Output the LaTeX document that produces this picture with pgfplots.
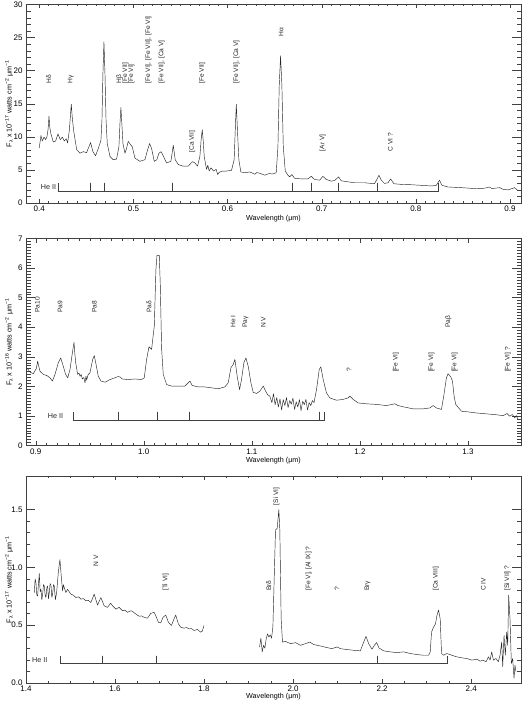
\documentclass[border=0pt]{standalone}
\usepackage{fontspec}
\setmainfont{Liberation Sans}
\usepackage{pgfplots}
\pgfplotsset{compat=1.18}

\newcommand{\tk}{\fontsize{8}{9}\selectfont}
\newcommand{\lb}{\fontsize{7.2}{8}\selectfont}
\newcommand{\an}{\fontsize{6.6}{7}\selectfont}

\pgfplotsset{
  spec/.style={
    scale only axis, width=495pt, anchor=south west,
    axis line style={black!75, line width=0.5pt},
    tick style={black!75, line width=0.4pt},
    tick align=inside, tick pos=both,
    major tick length=4pt, minor tick length=2pt,
    every y tick/.append style={/pgfplots/major tick length=9pt, /pgfplots/minor tick length=4.5pt},
    ticklabel style={font=\tk},
    xticklabel style={inner sep=1pt, yshift=-2pt},
    /pgf/number format/assume math mode=true,
    label style={font=\lb, inner sep=0.5pt},
    xlabel={Wavelength (μm)},
    xlabel style={at={(rel axis cs:0.5,0)}, anchor=center, yshift=-15.5pt},
    ylabel style={at={(rel axis cs:0,0.5)}, anchor=center, yshift=17pt},
  },
  sp/.style={black!85, line width=0.45pt, mark=none, line join=round},
  heii/.style={black!75, line width=0.4pt, mark=none},
}
\tikzset{
  ann/.style={font=\an, rotate=90, anchor=west, inner sep=0pt, black!85},
  hel/.style={font=\lb, anchor=east, inner sep=0pt, black!85},
}

\begin{document}
\begin{tikzpicture}
\path[use as bounding box] (0,0) rectangle (525pt,702pt);

% ---------------- panel 1: optical
\begin{axis}[spec, at={(26pt,499pt)}, height=198.5pt,
  xmin=0.3859, xmax=0.9117, ymin=0, ymax=30,
  xtick={0.4,0.5,0.6,0.7,0.8,0.9}, minor x tick num=9,
  ytick={0,5,10,15,20,25,30}, minor y tick num=4,
  xticklabel style={/pgf/number format/.cd, fixed, precision=1},
  ylabel={F\textsubscript{λ} x 10\textsuperscript{−17} watts cm\textsuperscript{−2} μm\textsuperscript{−1}}]
\addplot[sp] coordinates {
(0.4000,8.35)(0.4018,10.20)(0.4032,9.37)(0.4050,9.96)(0.4068,9.57)(0.4082,10.05)
(0.4094,11.2)(0.4103,13.13)(0.4112,11.4)(0.4124,10.44)(0.4149,9.22)(0.4174,9.37)
(0.4199,10.44)(0.4223,9.57)(0.4244,9.96)(0.4266,9.37)(0.4287,9.71)(0.4301,9.08)
(0.4319,10.93)(0.4331,13.2)(0.4340,14.93)(0.4350,13.0)(0.4365,10.93)(0.4397,8.10)
(0.4432,7.52)(0.4467,7.76)(0.4503,7.61)(0.4520,8.25)(0.4545,9.13)(0.4570,7.76)
(0.4598,7.13)(0.4627,8.25)(0.4655,9.47)(0.4666,12.6)(0.4676,19.5)(0.4687,24.35)
(0.4698,19.5)(0.4709,12.6)(0.4722,9.00)(0.4751,7.03)(0.4786,6.54)(0.4821,6.64)
(0.4846,8.49)(0.4857,12.0)(0.4867,14.45)(0.4878,11.8)(0.4889,8.98)(0.4910,7.52)
(0.4927,8.25)(0.4945,9.32)(0.4966,8.88)(0.4988,8.49)(0.5016,6.78)(0.5069,6.30)
(0.5122,6.54)(0.5150,8.00)(0.5172,8.98)(0.5193,8.25)(0.5221,6.30)(0.5249,6.54)
(0.5271,7.52)(0.5295,7.76)(0.5320,7.03)(0.5352,6.05)(0.5398,6.30)(0.5412,7.6)
(0.5423,8.74)(0.5434,7.6)(0.5444,6.54)(0.5476,5.81)(0.5529,5.56)(0.5582,5.56)
(0.5610,6.00)(0.5628,6.25)(0.5653,6.05)(0.5681,5.56)(0.5706,7.03)(0.5719,9.5)
(0.5731,11.08)(0.5742,9.3)(0.5752,7.03)(0.5777,5.08)(0.5790,5.70)(0.5805,4.83)
(0.5823,5.32)(0.5851,4.83)(0.5879,5.08)(0.5895,4.30)(0.5908,4.59)(0.5943,4.83)
(0.5989,4.83)(0.6042,4.93)(0.6070,6.54)(0.6083,11.5)(0.6093,14.93)(0.6104,11.3)
(0.6120,6.54)(0.6141,4.69)(0.6184,4.59)(0.6237,4.69)(0.6290,4.34)(0.6310,4.60)
(0.6343,4.49)(0.6396,4.20)(0.6440,4.45)(0.6482,4.39)(0.6517,4.59)(0.6535,8.5)
(0.6549,17.8)(0.6563,22.25)(0.6577,17.8)(0.6592,8.5)(0.6613,4.83)(0.6641,4.20)
(0.6660,3.95)(0.6684,4.29)(0.6712,3.73)(0.6783,3.64)(0.6854,3.64)(0.6889,4.03)
(0.6925,3.55)(0.6978,3.45)(0.7013,4.03)(0.7049,3.55)(0.7102,3.30)(0.7137,3.40)
(0.7180,3.94)(0.7208,3.35)(0.7279,3.20)(0.7350,3.06)(0.7456,3.06)(0.7562,2.91)
(0.7608,4.20)(0.7633,3.45)(0.7668,2.96)(0.7704,3.06)(0.7732,3.64)(0.7767,2.91)
(0.7845,2.81)(0.7952,2.76)(0.8058,2.67)(0.8164,2.57)(0.8217,2.67)(0.8252,3.45)
(0.8277,2.67)(0.8341,2.42)(0.8483,2.32)(0.8624,2.18)(0.8730,2.23)(0.8783,2.42)
(0.8808,2.18)(0.8890,2.32)(0.8925,2.08)(0.8978,1.98)(0.9049,2.32)(0.9077,1.98)
};
\addplot[heii] coordinates {
(0.4200,3.05)(0.4200,1.85)(0.4542,1.85)(0.4542,3.05)(0.4542,1.85)(0.4686,1.85)
(0.4686,3.05)(0.4686,1.85)(0.5411,1.85)(0.5411,3.05)(0.5411,1.85)(0.6683,1.85)
(0.6683,3.05)(0.6683,1.85)(0.6891,1.85)(0.6891,3.05)(0.6891,1.85)(0.7178,1.85)
(0.7178,3.05)(0.7178,1.85)(0.7593,1.85)(0.7593,3.05)(0.7593,1.85)(0.8237,1.85)
(0.8237,3.05)
};
\node[hel] at (axis cs:0.4180,2.4) {He II};
\node[ann] at (axis cs:0.4100,18) {Hδ};
\node[ann] at (axis cs:0.4335,18) {Hγ};
\node[ann] at (axis cs:0.4852,18) {Hβ};
\node[ann] at (axis cs:0.4916,18) {[Fe VII]};
\node[ann] at (axis cs:0.4980,18) {[Fe VI]};
\node[ann] at (axis cs:0.5160,18) {[Fe VI], [Fe VII], [Fe VI]};
\node[ann] at (axis cs:0.5300,18) {[Fe VII], [Ca V]};
\node[ann] at (axis cs:0.5625,7.6) {[Ca VII]};
\node[ann] at (axis cs:0.5730,18) {[Fe VII]};
\node[ann] at (axis cs:0.6095,18) {[Fe VII], [Ca V]};
\node[ann] at (axis cs:0.6570,25.1) {Hα};
\node[ann] at (axis cs:0.7010,7.8) {[Ar V]};
\node[ann] at (axis cs:0.7730,7.8) {C VI ?};
\end{axis}

% ---------------- panel 2: near-IR (I/J)
\begin{axis}[spec, at={(26pt,256.5pt)}, height=207pt,
  xmin=0.891, xmax=1.349, ymin=0, ymax=7,
  xtick={0.9,1.0,1.1,1.2,1.3}, minor x tick num=9,
  ytick={0,1,2,3,4,5,6,7}, minor y tick num=9,
  xticklabel style={/pgf/number format/.cd, fixed, fixed zerofill, precision=1},
  ylabel={F\textsubscript{λ} x 10\textsuperscript{−16} watts cm\textsuperscript{−2} μm\textsuperscript{−1}}]
\addplot[sp] coordinates {
(0.8901,2.55)(0.8925,2.60)(0.8947,2.48)(0.8978,2.43)(0.9005,2.60)(0.9018,2.85)
(0.9030,2.65)(0.9040,2.51)(0.9071,2.40)(0.9101,2.37)(0.9132,2.29)(0.9154,2.18)
(0.9178,2.40)(0.9209,2.80)(0.9231,2.96)(0.9255,2.68)(0.9277,2.40)(0.9296,2.29)
(0.9317,2.57)(0.9330,2.90)(0.9339,3.13)(0.9354,3.49)(0.9362,3.10)(0.9370,2.80)
(0.9388,2.40)(0.9400,2.45)(0.9410,2.34)(0.9421,2.40)(0.9431,2.25)(0.9445,2.30)
(0.9456,2.12)(0.9465,2.35)(0.9471,2.21)(0.9485,2.40)(0.9502,2.46)(0.9527,2.91)
(0.9542,3.04)(0.9558,2.74)(0.9579,2.34)(0.9604,2.18)(0.9641,2.14)(0.9687,2.23)
(0.9733,2.29)(0.9760,2.33)(0.9779,2.32)(0.9801,2.25)(0.9856,2.23)(0.9918,2.25)
(0.9980,2.23)(1.0004,2.29)(1.0026,2.91)(1.0048,3.34)(1.0072,3.25)(1.0097,4.04)
(1.0112,5.95)(1.0122,6.43)(1.0143,6.43)(1.0152,5.50)(1.0165,3.25)(1.0180,2.40)
(1.0211,2.06)(1.0257,2.01)(1.0319,2.01)(1.0380,2.01)(1.0411,2.12)(1.0427,2.18)
(1.0448,2.03)(1.0504,1.98)(1.0565,1.98)(1.0627,1.95)(1.0689,1.92)(1.0750,1.98)
(1.0781,2.12)(1.0806,2.63)(1.0827,2.74)(1.0843,2.91)(1.0864,2.34)(1.0886,1.89)
(1.0904,2.23)(1.0926,2.80)(1.0945,2.96)(1.0966,2.68)(1.0991,2.12)(1.1012,1.80)
(1.1043,1.76)(1.1074,1.84)(1.1105,2.01)(1.1120,1.89)(1.1145,1.72)(1.1166,1.67)
(1.1185,1.45)(1.1200,1.75)(1.1215,1.38)(1.1230,1.62)(1.1245,1.30)(1.1260,1.58)
(1.1275,1.20)(1.1290,1.55)(1.1305,1.35)(1.1320,1.62)(1.1335,1.28)(1.1350,1.52)
(1.1365,1.40)(1.1380,1.60)(1.1395,1.22)(1.1410,1.48)(1.1425,1.30)(1.1440,1.55)
(1.1455,1.18)(1.1470,1.50)(1.1485,1.38)(1.1500,1.56)(1.1515,1.20)(1.1530,1.45)
(1.1545,1.35)(1.1560,1.52)(1.1575,1.45)(1.1598,1.89)(1.1623,2.57)(1.1638,2.66)
(1.1660,2.23)(1.1690,1.78)(1.1721,1.61)(1.1783,1.53)(1.1845,1.56)(1.1891,1.61)
(1.1906,1.67)(1.1937,1.56)(1.1983,1.44)(1.2060,1.41)(1.2153,1.39)(1.2245,1.35)
(1.2322,1.41)(1.2353,1.35)(1.2399,1.31)(1.2492,1.24)(1.2584,1.24)(1.2646,1.27)
(1.2677,1.35)(1.2708,1.27)(1.2754,1.22)(1.2775,1.67)(1.2800,2.29)(1.2815,2.43)
(1.2840,2.32)(1.2856,2.18)(1.2871,1.67)(1.2886,1.39)(1.2939,1.16)(1.3016,1.13)
(1.3077,1.10)(1.3170,1.07)(1.3262,1.04)(1.3324,1.01)(1.3361,1.08)(1.3386,0.99)
(1.3410,1.05)(1.3432,0.94)(1.3447,1.01)(1.3463,0.88)
};
\addplot[heii] coordinates {
(0.9345,1.14)(0.9345,0.86)(0.9763,0.86)(0.9763,1.14)(0.9763,0.86)(1.0124,0.86)
(1.0124,1.14)(1.0124,0.86)(1.0424,0.86)(1.0424,1.14)(1.0424,0.86)(1.1626,0.86)
(1.1626,1.14)(1.1626,0.86)(1.1673,0.86)(1.1673,1.14)
};
\node[hel] at (axis cs:0.9255,0.98) {He II};
\node[ann] at (axis cs:0.9015,4.49) {Pa10};
\node[ann] at (axis cs:0.9225,4.49) {Pa9};
\node[ann] at (axis cs:0.9542,4.49) {Pa8};
\node[ann] at (axis cs:1.0048,4.49) {Paδ};
\node[ann] at (axis cs:1.0827,3.98) {He I};
\node[ann] at (axis cs:1.0941,3.98) {Paγ};
\node[ann] at (axis cs:1.1105,3.98) {N V};
\node[ann] at (axis cs:1.1900,2.48) {?};
\node[ann] at (axis cs:1.2332,2.48) {[Fe VI]};
\node[ann] at (axis cs:1.2662,2.48) {[Fe VI]};
\node[ann] at (axis cs:1.2818,3.98) {Paβ};
\node[ann] at (axis cs:1.2877,2.48) {[Fe VI]};
\node[ann] at (axis cs:1.3370,2.48) {[Fe VI] ?};
\end{axis}

% ---------------- panel 3: near-IR (H/K)
\begin{axis}[spec, at={(26pt,19pt)}, height=207pt,
  xmin=1.4, xmax=2.512, ymin=0, ymax=1.79,
  xtick={1.4,1.6,1.8,2.0,2.2,2.4}, minor x tick num=3,
  ytick={0,0.5,1.0,1.5}, minor y tick num=4,
  xlabel style={yshift=1.5pt},
  xticklabel style={/pgf/number format/.cd, fixed, fixed zerofill, precision=1},
  yticklabel style={/pgf/number format/.cd, fixed, fixed zerofill, precision=1},
  ylabel={F\textsubscript{λ} x 10\textsuperscript{−17} watts cm\textsuperscript{−2} μm\textsuperscript{−1}}]
\addplot[sp] coordinates {
(1.4187,0.782)(1.4205,0.900)(1.4224,0.867)(1.4243,0.760)(1.4262,0.753)(1.4280,0.860)
(1.4299,0.947)(1.4318,0.790)(1.4336,0.810)(1.4355,0.720)(1.4374,0.768)(1.4392,0.850)
(1.4411,0.839)(1.4430,0.760)(1.4448,0.739)(1.4467,0.820)(1.4486,0.839)(1.4505,0.730)
(1.4523,0.782)(1.4542,0.860)(1.4561,0.844)(1.4580,0.740)(1.4598,0.768)(1.4617,0.850)
(1.4635,0.839)(1.4660,0.720)(1.4688,0.782)(1.4725,0.953)(1.4762,1.067)(1.4792,0.924)
(1.4822,0.796)(1.4840,0.850)(1.4859,0.825)(1.4897,0.782)(1.4934,0.810)(1.5009,0.768)
(1.5060,0.760)(1.5121,0.739)(1.5180,0.745)(1.5233,0.725)(1.5290,0.730)(1.5345,0.711)
(1.5400,0.715)(1.5457,0.696)(1.5532,0.768)(1.5607,0.674)(1.5682,0.739)(1.5756,0.668)
(1.5831,0.654)(1.5900,0.690)(1.5943,0.668)(1.6018,0.639)(1.6093,0.654)(1.6167,0.625)
(1.6220,0.630)(1.6280,0.611)(1.6354,0.625)(1.6392,0.619)(1.6466,0.597)(1.6541,0.577)
(1.6600,0.580)(1.6653,0.568)(1.6728,0.560)(1.6803,0.602)(1.6877,0.611)(1.6915,0.582)
(1.6975,0.525)(1.7027,0.520)(1.7079,0.568)(1.7139,0.588)(1.7199,0.525)(1.7266,0.497)
(1.7326,0.554)(1.7363,0.588)(1.7423,0.511)(1.7475,0.483)(1.7550,0.474)(1.7610,0.480)
(1.7662,0.468)(1.7720,0.470)(1.7774,0.454)(1.7849,0.463)(1.7923,0.440)(1.7961,0.448)
(1.7998,0.497)
};
\addplot[sp] coordinates {
(1.9247,0.311)(1.9277,0.388)(1.9307,0.269)(1.9336,0.325)(1.9366,0.301)(1.9396,0.383)
(1.9426,0.425)(1.9456,0.397)(1.9486,0.417)(1.9516,0.388)(1.9546,0.482)(1.9575,0.896)
(1.9605,1.323)(1.9643,1.337)(1.9680,1.500)(1.9702,1.323)(1.9732,0.554)(1.9762,0.354)
(1.9830,0.360)(1.9942,0.340)(2.0054,0.349)(2.0166,0.326)(2.0278,0.340)(2.0375,0.354)
(2.0465,0.332)(2.0614,0.320)(2.0764,0.306)(2.0876,0.297)(2.0988,0.312)(2.1063,0.297)
(2.1212,0.289)(2.1361,0.283)(2.1511,0.278)(2.1586,0.354)(2.1638,0.403)(2.1698,0.340)
(2.1773,0.292)(2.1825,0.326)(2.1877,0.349)(2.1930,0.303)(2.2034,0.278)(2.2184,0.269)
(2.2333,0.263)(2.2482,0.269)(2.2632,0.255)(2.2781,0.246)(2.2931,0.240)(2.3043,0.240)
(2.3081,0.269)(2.3110,0.440)(2.3155,0.483)(2.3200,0.511)(2.3230,0.582)(2.3268,0.631)
(2.3305,0.554)(2.3335,0.255)(2.3380,0.240)(2.3454,0.255)(2.3566,0.240)(2.3678,0.226)
(2.3790,0.218)(2.3902,0.212)(2.4014,0.198)(2.4126,0.206)(2.4202,0.189)(2.4261,0.198)
(2.4336,0.184)(2.4388,0.226)(2.4426,0.198)(2.4462,0.269)(2.4499,0.198)(2.4559,0.212)
(2.4611,0.184)(2.4649,0.240)(2.4686,0.354)(2.4709,0.141)(2.4739,0.411)(2.4768,0.240)
(2.4798,0.440)(2.4821,0.326)(2.4843,0.759)(2.4873,0.554)(2.4903,0.169)(2.4933,0.212)
(2.4963,0.041)(2.4985,0.155)(2.5007,0.098)
};
\addplot[heii] coordinates {
(1.4765,0.235)(1.4765,0.175)(1.5719,0.175)(1.5719,0.235)(1.5719,0.175)(1.6923,0.175)
(1.6923,0.235)(1.6923,0.175)(2.1891,0.175)(2.1891,0.235)(2.1891,0.175)(2.3464,0.175)
(2.3464,0.235)
};
\node[hel] at (axis cs:1.4486,0.197) {He II};
\node[ann] at (axis cs:1.5570,1.01) {N V};
\node[ann] at (axis cs:1.7139,0.796) {[Ti VI]};
\node[ann] at (axis cs:1.9455,0.796) {Brδ};
\node[ann] at (axis cs:1.9628,1.537) {[Si VI]};
\node[ann] at (axis cs:2.0350,0.796) {[Fe V], [Al IX] ?};
\node[ann] at (axis cs:2.0990,0.796) {?};
\node[ann] at (axis cs:2.1670,0.796) {Brγ};
\node[ann] at (axis cs:2.3208,0.796) {[Ca VIII]};
\node[ann] at (axis cs:2.4276,0.796) {C IV};
\node[ann] at (axis cs:2.4814,0.796) {[Si VII] ?};
\end{axis}
\end{tikzpicture}
\end{document}
